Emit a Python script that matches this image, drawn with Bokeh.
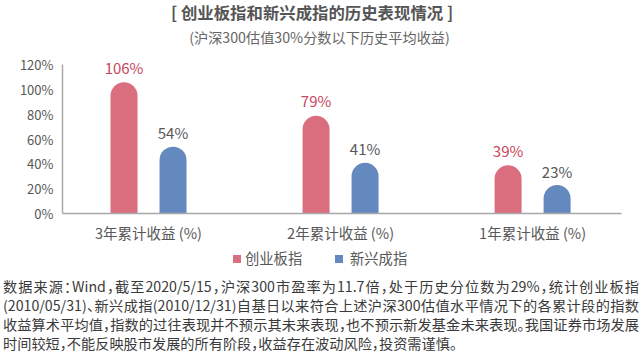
from bokeh.plotting import figure
from bokeh.layouts import column
from bokeh.models import (Range1d, FixedTicker, Label, LabelSet, Div,
                          ColumnDataSource, PrintfTickFormatter)
from bokeh.transform import dodge
from bokeh.core.properties import value
from bokeh.embed import file_html
from bokeh.resources import INLINE

# ---- data ----
categories = ["3年累计收益 (%)", "2年累计收益 (%)", "1年累计收益 (%)"]
series_names = ["创业板指", "新兴成指"]
cyb_values = [106, 79, 39]
xxcz_values = [54, 41, 23]
y_ticks = [0, 20, 40, 60, 80, 100, 120]
title_text = "[   创业板指和新兴成指的历史表现情况   ]"
subtitle_text = "(沪深300估值30%分数以下历史平均收益)"
note_lines = [
    "数据来源：Wind，截至2020/5/15，沪深300市盈率为11.7倍，处于历史分位数为29%，统计创业板指",
    "(2010/05/31)、新兴成指(2010/12/31)自基日以来符合上述沪深300估值水平情况下的各累计段的指数",
    "收益算术平均值，指数的过往表现并不预示其未来表现，也不预示新发基金未来表现。我国证券市场发展",
    "时间较短，不能反映股市发展的所有阶段，收益存在波动风险，投资需谨慎。",
]

FONT = "Noto Sans CJK SC"
PINK = "#db6e7e"
BLUE = "#6489bf"
PINK_TXT = "#c8465c"
GRAY_TXT = "#585858"
AXIS = "#a8a8a8"
NOTE_TXT = "#3a3a3a"

xs = list(range(len(categories)))
src = ColumnDataSource(dict(
    x=xs, cyb=cyb_values, xxcz=xxcz_values,
    cyb_t=[f"{v}%" for v in cyb_values],
    xxcz_t=[f"{v}%" for v in xxcz_values],
))

# ---------------- main chart ----------------
p = figure(width=640, height=245, output_backend="svg", toolbar_location=None,
           x_range=Range1d(-0.448, 2.463), y_range=Range1d(0, 172.1),
           min_border_left=62, min_border_right=19, min_border_top=0,
           min_border_bottom=27)
p.outline_line_color = None
p.grid.visible = False

OFF = 0.1276
W = 0.1406
p.vbar(x=dodge("x", -OFF, range=p.x_range), top="cyb", width=W, source=src,
       fill_color=PINK, line_color=None, border_radius=(14, 14, 0, 0))
p.vbar(x=dodge("x", OFF, range=p.x_range), top="xxcz", width=W, source=src,
       fill_color=BLUE, line_color=None, border_radius=(14, 14, 0, 0))

p.add_layout(LabelSet(x=dodge("x", -OFF, range=p.x_range), y="cyb", text="cyb_t",
                      source=src, y_offset=15, text_align="center", text_baseline="middle",
                      text_font=value(FONT), text_font_size="15px", text_color=PINK_TXT))
p.add_layout(LabelSet(x=dodge("x", OFF, range=p.x_range), y="xxcz", text="xxcz_t",
                      source=src, y_offset=14, text_align="center", text_baseline="middle",
                      text_font=value(FONT), text_font_size="15px", text_color=GRAY_TXT))

p.xaxis.ticker = FixedTicker(ticks=xs)
p.xaxis.major_label_overrides = {i: c for i, c in enumerate(categories)}
p.yaxis.ticker = FixedTicker(ticks=y_ticks)
p.yaxis.formatter = PrintfTickFormatter(format="%d%%")
p.yaxis.bounds = (y_ticks[0], y_ticks[-1])
for ax in (p.xaxis, p.yaxis):
    ax.axis_line_color = AXIS
    ax.axis_line_width = 1.5
    ax.major_tick_line_color = None
    ax.minor_tick_line_color = None
    ax.major_tick_out = 0
    ax.major_tick_in = 0
    ax.major_label_text_font = FONT
    ax.major_label_text_color = GRAY_TXT
p.xaxis.major_label_text_font_size = "14.5px"
p.xaxis.major_label_standoff = 8
p.yaxis.major_label_text_font_size = "13px"
p.yaxis.major_label_standoff = 9

p.add_layout(Label(x=257, y=202, x_units="screen", y_units="screen", text=title_text,
                   text_align="center", text_baseline="middle", text_font=FONT,
                   text_font_size="16.4px", text_font_style="bold", text_color="#555555"))
p.add_layout(Label(x=257, y=177, x_units="screen", y_units="screen", text=subtitle_text,
                   text_align="center", text_baseline="middle", text_font=FONT,
                   text_font_size="14.2px", text_color="#666666"))

# ---------------- legend + notes (HTML strip) ----------------
base = f"position:absolute;font-family:'{FONT}';margin:0;padding:0;"
legend_html = (
    f"<div style=\"{base}left:233px;top:10px;width:8px;height:8px;background:{PINK};\"></div>"
    f"<div style=\"{base}left:245px;top:4px;height:17px;line-height:17px;font-size:14.3px;"
    f"white-space:nowrap;color:{GRAY_TXT};\">{series_names[0]}</div>"
    f"<div style=\"{base}left:335px;top:10px;width:8px;height:8px;background:{BLUE};\"></div>"
    f"<div style=\"{base}left:350px;top:4px;height:17px;line-height:17px;font-size:14.3px;"
    f"white-space:nowrap;color:{GRAY_TXT};\">{series_names[1]}</div>"
)
note_divs = []
for i, line in enumerate(note_lines):
    last = i == len(note_lines) - 1
    just = "" if last else "width:636px;text-align:justify;text-align-last:justify;"
    note_divs.append(
        f"<div style=\"{base}left:3px;top:{32 + 19 * i}px;height:19px;line-height:19px;"
        f"font-size:14.2px;color:{NOTE_TXT};font-feature-settings:'halt';{just}"
        f"{'white-space:nowrap;' if last else ''}\">{line}</div>")
notes_html = "".join(note_divs)
strip = Div(text=f"<div style=\"position:relative;width:640px;height:114px;margin:0;padding:0;\">"
                 f"{legend_html}{notes_html}</div>",
            width=640, height=114, margin=0)

layout = column(p, strip, spacing=0)
open("out.html", "w").write(file_html(layout, INLINE))
